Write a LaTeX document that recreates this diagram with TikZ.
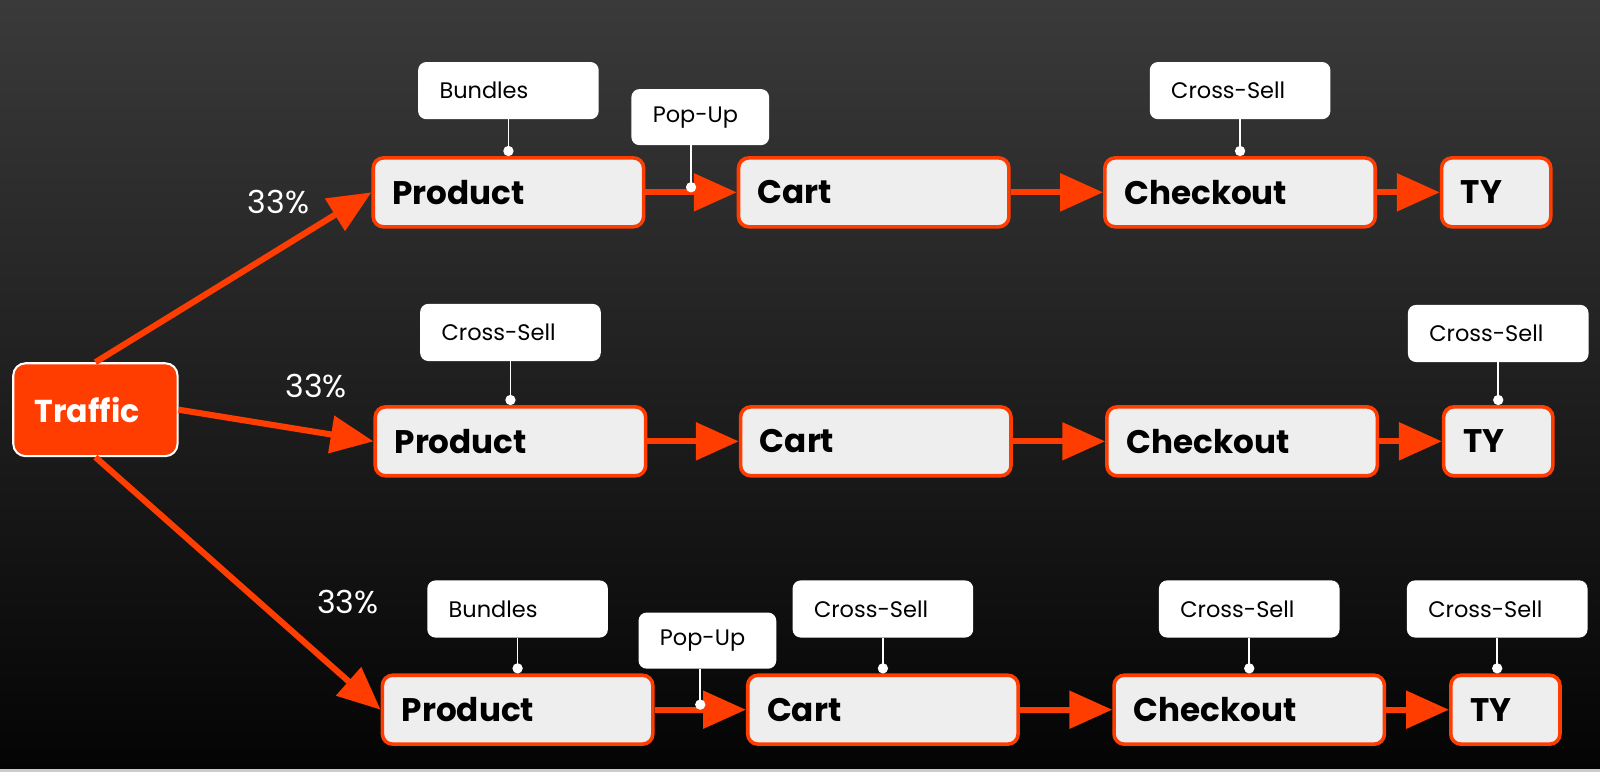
\documentclass[tikz,border=0pt]{standalone}
\usepackage{fontspec}
\setmainfont{Poppins}
\usetikzlibrary{positioning,arrows.meta,shapes}
\definecolor{funnelred}{RGB}{255,61,0}
\definecolor{boxgrey}{RGB}{238,238,238}
\definecolor{bgtop}{RGB}{58,58,58}
\definecolor{bgbot}{RGB}{4,4,4}

\begin{document}
\begin{tikzpicture}[x=1pt,y=-1pt,
  stepbox/.style={draw=funnelred,line width=3.5pt,fill=boxgrey,rounded corners=10pt,minimum height=67.5pt,
                  inner xsep=19pt,align=left,anchor=west,font=\fontsize{32}{38}\selectfont\bfseries},
  tagbox/.style={fill=white,rounded corners=8pt,minimum height=56pt,inner xsep=21pt,align=left,
                 font=\fontsize{22}{26}\selectfont},
  flow/.style={draw=funnelred,line width=6pt,-{Triangle[length=42pt,width=36pt]}},
  tagline/.style={draw=white,line width=1.5pt,-{Circle[length=10pt]}},
  pct/.style={text=white,font=\fontsize{31}{36}\selectfont}]
\useasboundingbox (0,0) rectangle (1568,756.6);
\shade[top color=bgtop,bottom color=bgbot] (0,0) rectangle (1568,753.6);
\fill[gray!40] (0,753.6) rectangle (1568,756.6);

\foreach \r/\dx/\y in {1/0/188.5,2/2/432.5,3/9/695.5}{
  \node[stepbox,text width=227pt] (p\r) at (364+\dx,\y) {Product};
  \node[stepbox,text width=227pt] (c\r) at (722+\dx,\y) {Cart};
  \node[stepbox,text width=227pt] (k\r) at (1081+\dx,\y) {Checkout};
  \node[stepbox,text width=69pt] (t\r) at (1411+\dx,\y) {TY};
  \draw[flow] (p\r) -- coordinate[pos=.5] (m\r) (c\r);
  \draw[flow] (c\r) -- (k\r);
  \draw[flow] (k\r) -- (t\r);
}

\node[draw=white,line width=2pt,fill=funnelred,rounded corners=12pt,minimum height=91pt,inner xsep=21pt,
      text width=119pt,align=left,text=white,font=\fontsize{31}{36}\selectfont\bfseries] (traffic) at (93.5,401.5) {Traffic};
\draw[flow] (traffic.north) -- (p1.west);
\draw[flow] (traffic.east) -- (p2.west);
\draw[flow] (traffic.south) -- (p3.west);
\node[pct] (q1) at (273,198) {33\%};
\node[pct] (q2) at (310,378) {33\%};
\node[pct] (q3) at (341,590) {33\%};

\node[tagbox,text width=135pt,above=36pt of p1] (b1) {Bundles};
\node[tagbox,text width=93pt,minimum height=55pt,above=46pt of m1,xshift=9pt] (u1) {Pop-Up};
\node[tagbox,text width=135pt,above=36pt of k1] (x1) {Cross-Sell};
\node[tagbox,text width=135pt,above=43pt of p2] (x2) {Cross-Sell};
\node[tagbox,text width=135pt,above=42pt of t2] (y2) {Cross-Sell};
\node[tagbox,text width=135pt,above=35pt of p3] (b3) {Bundles};
\node[tagbox,text width=93pt,minimum height=55pt,above=40pt of m3,xshift=7pt] (u3) {Pop-Up};
\node[tagbox,text width=135pt,above=35pt of c3] (x3) {Cross-Sell};
\node[tagbox,text width=135pt,above=35pt of k3] (z3) {Cross-Sell};
\node[tagbox,text width=135pt,above=35pt of t3,xshift=-8pt] (y3) {Cross-Sell};

\draw[tagline] (b1) -- (p1);
\draw[tagline] (u1.south -| m1) -- (m1);
\draw[tagline] (x1) -- (k1);
\draw[tagline] (x2) -- (p2);
\draw[tagline] (y2) -- (t2);
\draw[tagline] (b3) -- (p3);
\draw[tagline] (u3.south -| m3) -- (m3);
\draw[tagline] (x3) -- (c3);
\draw[tagline] (z3) -- (k3);
\draw[tagline] (y3.south) -- (y3.south |- t3.north);
\end{tikzpicture}
\end{document}
